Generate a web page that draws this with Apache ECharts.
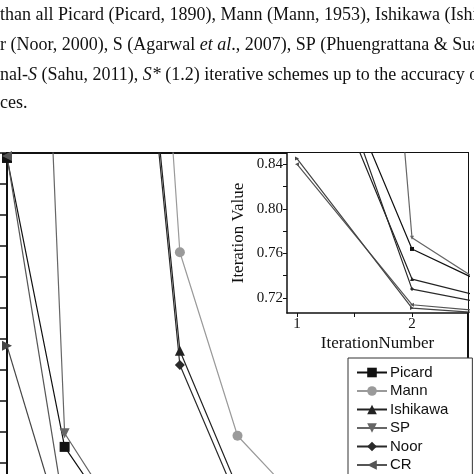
<!DOCTYPE html>
<html lang="en" style="height: 100%">
<head>
  <meta charset="utf-8">
</head>
<body style="height: 100%; margin: 0; background: #fff">
<div id="container" style="height: 100%"></div>
<script type="text/javascript" src="https://cdn.jsdelivr.net/npm/echarts@6/dist/echarts.min.js"></script>
<script type="text/javascript">
  // main plot: iteration number vs value (the axis labels are cropped away)
  var mainX = [1, 2, 3, 4, 5, 6];
  var picardMain = [7.92, 3.26, 1.9, null, null, null];
  var mannMain = [null, null, 20, 6.4, 3.44, 2.45];
  var ishikawaMain = [null, null, 14.2, 4.81, 2.6, null];
  var spMain = [26, 3.48, 2.03, null, null, null];
  var noorMain = [null, null, 14, 4.58, 2.4, null];
  var crMain = [7.95, 2.2, null, null, null, null];
  var sStarMain = [4.89, 1.8, null, null, null, null];

  // inset plot
  var insetX = [1, 2, 3];
  var picardInset = [1.01, 0.764, 0.715];
  var mannInset = [1.3, 0.95, 0.8];
  var ishikawaInset = [0.987, 0.737, 0.711];
  var spInset = [2.0, 0.774, 0.708];
  var noorInset = [1.02, 0.728, 0.708];
  var crInset = [0.840, 0.714, 0.705];
  var sStarInset = [0.845, 0.711, 0.704];
  var insetYTicks = [0.72, 0.76, 0.80, 0.84];
  var insetYMinor = [0.72, 0.74, 0.76, 0.78, 0.80, 0.82, 0.84];

  var names = ['Picard', 'Mann', 'Ishikawa', 'SP', 'Noor', 'CR', 'S*'];
  var colors = ['#111', '#9a9a9a', '#222', '#666', '#2a2a2a', '#555', '#444'];
  var symbols = ['rect', 'circle', 'triangle',
    'path://M0,0 L10,0 L5,9 Z', 'diamond',
    'path://M0,5 L9,0 L9,10 Z', 'path://M0,0 L9,5 L0,10 Z'];
  var mainData = [picardMain, mannMain, ishikawaMain, spMain, noorMain, crMain, sStarMain];
  var insetData = [picardInset, mannInset, ishikawaInset, spInset, noorInset, crInset, sStarInset];

  function pairs(xs, ys) {
    return xs.map(function (x, i) { return [x, ys[i]]; });
  }

  var series = [];
  names.forEach(function (n, i) {
    series.push({
      name: n, type: 'line', xAxisIndex: 0, yAxisIndex: 0,
      data: pairs(mainX, mainData[i]), connectNulls: false,
      symbol: symbols[i], symbolSize: 10, showAllSymbol: true,
      lineStyle: { color: colors[i], width: 1.2 },
      itemStyle: { color: colors[i] }, z: 2
    });
    series.push({
      name: n, type: 'line', xAxisIndex: 1, yAxisIndex: 1,
      data: pairs(insetX, insetData[i]),
      symbol: symbols[i], symbolSize: 4,
      lineStyle: { color: colors[i], width: 1.2 },
      itemStyle: { color: colors[i] }, z: 4
    });
  });

  var serif = '"Liberation Serif", "Times New Roman", serif';
  var paragraph = [
    { y: 6, text: 'than all Picard (Picard, 1890), Mann (Mann, 1953), Ishikawa (Ishikawa' },
    { y: 36, text: 'r (Noor, 2000), S (Agarwal {i|et al}., 2007), SP (Phuengrattana & Suantai' },
    { y: 66, text: 'nal-{i|S} (Sahu, 2011), {i|S*} (1.2) iterative schemes up to the accuracy of this' },
    { y: 94, text: 'ces.' }
  ];

  var dom = document.getElementById('container');
  var myChart = echarts.init(dom, null, { renderer: 'canvas' });

  var option = {
    backgroundColor: '#fff',
    animation: false,
    graphic: paragraph.map(function (p) {
      return {
        type: 'text', left: 0, top: p.y,
        style: {
          text: p.text, font: '18px ' + serif, fill: '#111',
          rich: { i: { fontStyle: 'italic', fontSize: 18, fontFamily: serif } }
        }
      };
    }),
    grid: [
      { left: 7, top: 153, width: 461, height: 372, show: true, outerBoundsMode: 'none',
        borderColor: '#111', borderWidth: 2, backgroundColor: 'transparent' },
      { left: 287, top: 153, width: 181, height: 160, show: true, outerBoundsMode: 'none',
        borderWidth: 0, backgroundColor: '#fff', z: 3 }
    ],
    xAxis: [
      { gridIndex: 0, type: 'value', min: 1, max: 9, interval: 1,
        axisLabel: { show: false }, axisTick: { show: false },
        axisLine: { show: false }, splitLine: { show: false } },
      { gridIndex: 1, type: 'value', min: 0.913, max: 2.487, z: 5,
        axisLine: { onZero: false, lineStyle: { color: '#111', width: 1.5 } },
        axisTick: { customValues: [1, 1.5, 2], length: 4, lineStyle: { color: '#111' } },
        axisLabel: { customValues: [1, 2], color: '#111', fontFamily: serif, fontSize: 15, margin: 4 },
        splitLine: { show: false },
        name: 'IterationNumber', nameLocation: 'middle', nameGap: 22,
        nameTextStyle: { color: '#111', fontFamily: serif, fontSize: 17 } }
    ],
    yAxis: [
      { gridIndex: 0, type: 'value', min: 2, max: 8, interval: 1,
        axisLabel: { show: false },
        axisLine: { show: false },
        axisTick: { show: true, length: 7, lineStyle: { color: '#111', width: 1.5 } },
        minorTick: { show: true, splitNumber: 2, length: 7, lineStyle: { color: '#111', width: 1.5 } },
        splitLine: { show: false } },
      { gridIndex: 1, type: 'value', min: 0.7066, max: 0.85, z: 5,
        axisLine: { onZero: false, lineStyle: { color: '#111', width: 1.5 } },
        axisTick: { customValues: insetYMinor, length: 4, lineStyle: { color: '#111' } },
        axisLabel: { customValues: insetYTicks, color: '#111', fontFamily: serif, fontSize: 15, margin: 4,
          formatter: function (v) { return v.toFixed(2); } },
        splitLine: { show: false },
        name: 'Iteration Value', nameLocation: 'middle', nameGap: 40, nameRotate: 90,
        nameTextStyle: { color: '#111', fontFamily: serif, fontSize: 17 } }
    ],
    legend: {
      data: names, orient: 'vertical', left: 348, top: 358,
      width: 101, height: 200, padding: [7, 24, 30, 8],
      borderColor: '#333', borderWidth: 1, backgroundColor: '#fff',
      itemGap: 3.5, itemWidth: 30, itemHeight: 12,
      textStyle: { fontFamily: '"Liberation Sans", Arial, sans-serif', fontSize: 15, color: '#111', padding: [0, 0, 0, -2] }
    },
    series: series
  };

  myChart.setOption(option);
  window.addEventListener('resize', myChart.resize);
</script>
</body>
</html>
